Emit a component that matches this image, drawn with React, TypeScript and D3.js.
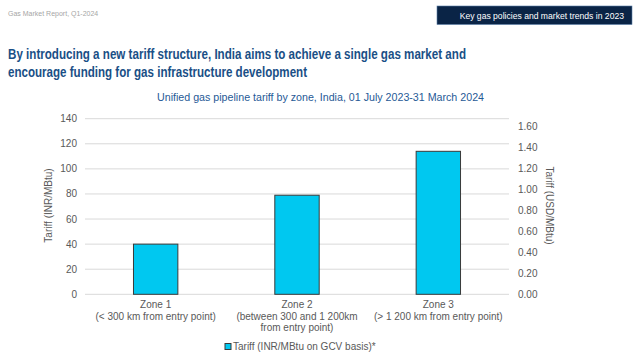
import React from 'react'
import * as d3 from 'd3'

const zones = ['Zone 1', 'Zone 2', 'Zone 3']
const zoneLabels = [
  ['Zone 1', '(< 300 km from entry point)'],
  ['Zone 2', '(between 300 and 1 200km', 'from entry point)'],
  ['Zone 3', '(> 1 200 km from entry point)'],
]
const tariffInr = [40, 79, 114]
const leftTicks = [0, 20, 40, 60, 80, 100, 120, 140]
const rightTicks = [0, 0.2, 0.4, 0.6, 0.8, 1.0, 1.2, 1.4, 1.6]
const inrPerUsd = 83.5

const W = 640
const H = 354
const margin = { top: 118.7, right: 131, bottom: 59.7, left: 85 }

const font = 'Liberation Sans, Arial, sans-serif'
const grey = '#595959'

const App = () => {
  const width = W - margin.left - margin.right
  const height = H - margin.top - margin.bottom
  const x = d3.scaleBand().domain(zones).range([0, width]).paddingInner(0.686).paddingOuter(0.343)
  const y = d3.scaleLinear().domain([0, 140]).range([height, 0])
  const y2 = d3.scaleLinear().domain([0, 140 / inrPerUsd]).range([height, 0])

  return (
    <svg width={W} height={H} style={{ position: 'absolute', left: 0, top: 0 }} fontFamily={font}>
      <rect width={W} height={H} fill="#fff" />
      {/* header */}
      <text x={8} y={16} fontSize={7} fill="#a6a6a6">Gas Market Report, Q1-2024</text>
      <rect x={437} y={6} width={195} height={18.5} fill="#0a2446" stroke="#5b7fa8" strokeWidth={0.6} />
      <text x={624} y={18.5} fontSize={8.6} fill="#fff" textAnchor="end">Key gas policies and market trends in 2023</text>

      {/* title */}
      <text x={8} y={59} fontSize={15.5} fontWeight="bold" fill="#1a4f86" textLength={458} lengthAdjust="spacingAndGlyphs">
        By introducing a new tariff structure, India aims to achieve a single gas market and
      </text>
      <text x={8} y={76.5} fontSize={15.5} fontWeight="bold" fill="#1a4f86" textLength={299} lengthAdjust="spacingAndGlyphs">
        encourage funding for gas infrastructure development
      </text>
      <text x={157} y={101} fontSize={10} fill="#1f5a96" textLength={327} lengthAdjust="spacingAndGlyphs">
        Unified gas pipeline tariff by zone, India, 01 July 2023-31 March 2024
      </text>

      <g transform={`translate(${margin.left},${margin.top})`}>
        {leftTicks.map(t => (
          <g key={t}>
            <line x1={0} x2={width} y1={y(t)} y2={y(t)} stroke="#d9d9d9" strokeWidth={1} />
            <text x={-8} y={y(t)} dy="0.35em" fontSize={10} fill={grey} textAnchor="end">{t}</text>
          </g>
        ))}
        {rightTicks.map(t => (
          <text key={t} x={width + 9} y={y2(t)} dy="0.35em" fontSize={10} fill={grey}>{t.toFixed(2)}</text>
        ))}
        {zones.map((z, i) => (
          <rect
            key={z}
            x={x(z)}
            y={y(tariffInr[i])}
            width={x.bandwidth()}
            height={height - y(tariffInr[i])}
            fill="#00c8f0"
            stroke="#3a3a3a"
            strokeWidth={1}
          />
        ))}
        {zones.map((z, i) => (
          <text key={z} x={(x(z) || 0) + x.bandwidth() / 2} y={height + 14} fontSize={10} fill={grey} textAnchor="middle">
            {zoneLabels[i].map((l, j) => (
              <tspan key={j} x={(x(z) || 0) + x.bandwidth() / 2} dy={j === 0 ? 0 : 11.3}>{l}</tspan>
            ))}
          </text>
        ))}
        <text transform={`translate(-33,${height / 2 - 1}) rotate(-90)`} fontSize={10} fill={grey} textAnchor="middle">
          Tariff (INR/MBtu)
        </text>
        <text transform={`translate(${width + 37},${height / 2 - 1}) rotate(90)`} fontSize={10} fill={grey} textAnchor="middle">
          Tariff (USD/MBtu)
        </text>
      </g>

      {/* legend */}
      <rect x={225} y={343.5} width={6} height={6} fill="#00c8f0" stroke="#3a3a3a" strokeWidth={1} />
      <text x={233} y={350} fontSize={10} fill={grey}>Tariff (INR/MBtu on GCV basis)*</text>
    </svg>
  )
}

export default App
